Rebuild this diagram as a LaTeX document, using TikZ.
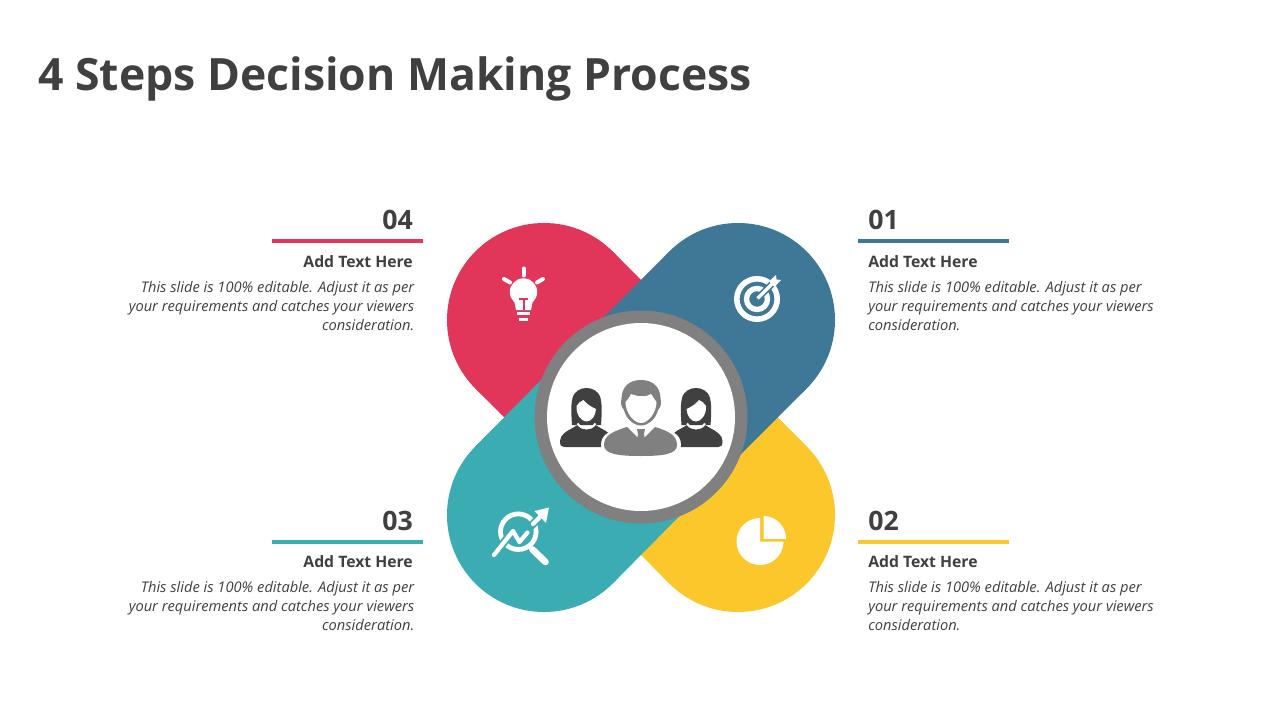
\documentclass[tikz,border=0pt]{standalone}
\usepackage{fontspec}
\setmainfont{Open Sans}
\definecolor{cred}{HTML}{E1365A}
\definecolor{cblue}{HTML}{3E7896}
\definecolor{cteal}{HTML}{3BACB1}
\definecolor{cyel}{HTML}{FBC72B}
\definecolor{cgrey}{HTML}{808080}
\definecolor{cdark}{HTML}{404040}
\tikzset{
  titletext/.style={anchor=base west,inner sep=0pt,text=cdark,font=\fontsize{33.4}{38}\selectfont\bfseries},
  numtext/.style={inner sep=0pt,text=cdark,font=\fontsize{20}{24}\selectfont\bfseries},
  headtext/.style={inner sep=0pt,text=cdark,font=\fontsize{11.8}{14}\selectfont\bfseries},
  bodytext/.style={inner sep=0pt,text=cdark,font=\fontsize{11}{14.25}\selectfont\itshape},
  rulebar/.style={line width=3pt},
  iconline/.style={draw=white,line cap=round,line join=round},
}
\newcommand{\womanicon}{%
  \fill[cdark] (-14.5,425) .. controls (-15.5,412) and (-15.5,404) .. (-14,398)
     .. controls (-12,391) and (-6,388) .. (0,388)
     .. controls (6,388) and (12,391) .. (14,398)
     .. controls (15.5,404) and (15.5,412) .. (14.5,425) -- cycle;
  \fill[white] (-10,406) .. controls (-8,403) and (-6,401) .. (-3,400)
     .. controls (0,404) and (5,407) .. (9.5,409)
     .. controls (9,416) and (5,421.5) .. (0,421.5)
     .. controls (-5,421.5) and (-10.5,415) .. (-10,406) -- cycle;
  \fill[cdark] (-26.5,441) .. controls (-26.5,435) and (-20,431) .. (-14,428)
     -- (-9,425) .. controls (-5,431) and (5,431) .. (9,425) -- (14,428)
     .. controls (20,431) and (26.5,435) .. (26.5,441)
     .. controls (26.5,446) and (25,447) .. (22,447) -- (-22,447)
     .. controls (-25,447) and (-26.5,446) .. (-26.5,441) -- cycle;
  \draw[white,line width=1.5pt] (-9,423.5) .. controls (-5,430) and (5,430) .. (9,423.5);
}
\begin{document}
\begin{tikzpicture}[x=0.75pt,y=-0.75pt]
\useasboundingbox (0,0) rectangle (1280,720);
\fill[white] (0,0) rectangle (1280,720);

% petals
\fill[cred] (544,320) circle[radius=97];
\fill[cred] (612.6,251.4) -- (709.6,348.4) -- (572.4,485.6) -- (475.4,388.6) -- cycle;
\fill[cyel] (738,515) circle[radius=97];
\fill[cyel] (806.6,446.4) -- (709.6,348.4) -- (572.4,485.6) -- (669.4,583.6) -- cycle;
\fill[cblue] (738,320) circle[radius=97];
\fill[cblue] (669.4,251.4) -- (806.6,388.6) -- (709.6,485.6) -- (572.4,348.4) -- cycle;
\fill[cteal] (544,515) circle[radius=97];
\fill[cteal] (475.4,446.4) -- (612.6,583.6) -- (709.6,485.6) -- (572.4,348.4) -- cycle;

% central ring
\fill[cgrey] (641,417) circle[radius=106.5];
\fill[white] (641,417) circle[radius=94];

% people
\begin{scope}[shift={(586.5,0)}]\womanicon\end{scope}
\begin{scope}[shift={(696,0)},xscale=-1]\womanicon\end{scope}
\fill[white] (641,458) .. controls (615,458) and (601,456) .. (601,445)
   .. controls (601,433) and (612,430) .. (628,425) -- (654,425)
   .. controls (670,430) and (681,433) .. (681,445)
   .. controls (681,456) and (667,458) .. (641,458) -- cycle;
\fill[cgrey] (641,456) .. controls (618,456) and (604,454) .. (604,445)
   .. controls (604,435) and (614,431) .. (627,427) -- (637,437) -- (645,437) -- (655,427)
   .. controls (668,431) and (677,435) .. (677,445)
   .. controls (677,454) and (664,456) .. (641,456) -- cycle;
\fill[cgrey] (637,429) -- (645,429) -- (644,434) -- (645.5,443) -- (641,448) -- (636.5,443) -- (638,434) -- cycle;
\fill[cgrey] (641,380) .. controls (629,380) and (622,387) .. (621.5,398)
   .. controls (620.5,403) and (621,407) .. (624,410)
   .. controls (626,419) and (634,425.5) .. (641,425.5)
   .. controls (648,425.5) and (656,419) .. (658,410)
   .. controls (661,407) and (661.5,403) .. (660.5,398)
   .. controls (660,387) and (653,380) .. (641,380) -- cycle;
\fill[white] (625.5,402) .. controls (628,399) and (630,397) .. (631,394)
   .. controls (638,397) and (647,397) .. (651,394)
   .. controls (653,397) and (655,400) .. (656.5,402)
   .. controls (656.5,413) and (648,423) .. (641,423)
   .. controls (634,423) and (625.5,413) .. (625.5,402) -- cycle;

% light bulb
\fill[white] (523.5,292) circle[radius=13.7];
\fill[white] (514,300) -- (533,300) -- (531,310) -- (516,310) -- cycle;
\fill[white] (517,312) rectangle (530,315);
\fill[white] (519,318) rectangle (528,321);
\draw[cred,line width=1.5pt] (519,298.5) -- (528,298.5) (523.5,298.5) -- (523.5,310);
\draw[iconline,line width=3pt] (523.5,268.5) -- (523.5,275.5);
\draw[iconline,line width=3pt] (504,279) -- (510,282.5);
\draw[iconline,line width=3pt] (543,279) -- (537,282.5);

% target
\draw[white,line width=4.2pt] (757,299) circle[radius=20.2];
\draw[white,line width=4pt] (757,299) circle[radius=10.5];
\draw[cblue,line width=5pt] (757,299) -- (776,280);
\draw[white,line width=2.6pt] (757.5,298.5) -- (772,284);
\fill[white] (769.5,281) -- (776,275) -- (776.5,279.5) -- (781,280) -- (775,286.5) -- (771,285) -- cycle;

% analytics
\draw[white,line width=3.6pt] (518.3,531.7) circle[radius=17.8];
\draw[cteal,line width=6pt,line join=round] (493,556) -- (513,531) -- (519.5,542) -- (528,532);
\draw[cteal,line width=6pt] (526,531) -- (543,514);
\draw[iconline,line width=3.2pt] (494,555) -- (513,531) -- (519.5,542) -- (527.5,532.5);
\draw[iconline,line width=3.2pt] (533,524) -- (543,514);
\fill[white] (549,507.5) -- (546,523) -- (534.5,511) -- cycle;
\draw[iconline,line width=5pt] (532.5,549.5) -- (545.5,562);

% pie chart
\begin{scope}
  \clip (730,510) -- (760,510) -- (760,541.5) -- (790,541.5) -- (790,570) -- (730,570) -- cycle;
  \fill[white] (760,541.5) circle[radius=23.5];
\end{scope}
\begin{scope}
  \clip (763.5,510) rectangle (790,538.5);
  \fill[white] (763.5,538.5) circle[radius=22.5];
\end{scope}

% title
\node[titletext] (title) at (38,91) {4 Steps Decision Making Process};

% rules
\coordinate (r4a) at (272,241); \coordinate (r4b) at (423,241);
\coordinate (r1a) at (858,241); \coordinate (r1b) at (1009,241);
\coordinate (r3a) at (272,542); \coordinate (r3b) at (423,542);
\coordinate (r2a) at (858,542); \coordinate (r2b) at (1009,542);
\draw[rulebar,cred] (r4a) -- (r4b);
\draw[rulebar,cblue] (r1a) -- (r1b);
\draw[rulebar,cteal] (r3a) -- (r3b);
\draw[rulebar,cyel] (r2a) -- (r2b);

% step 04
\node[numtext,anchor=base east] (n4) at (413,229) {04};
\node[headtext,anchor=base east] (h4) at (413,267.5) {Add Text Here};
\node[bodytext,anchor=north east,align=right] (b4) at (414.5,281) {This slide is 100\% editable. Adjust it as per\\your requirements and catches your viewers\\consideration.};
% step 01
\node[numtext,anchor=base west] (n1) at (868,229) {01};
\node[headtext,anchor=base west] (h1) at (868,267.5) {Add Text Here};
\node[bodytext,anchor=north west,align=left] (b1) at (868,281) {This slide is 100\% editable. Adjust it as per\\your requirements and catches your viewers\\consideration.};
% step 03
\node[numtext,anchor=base east] (n3) at (413,530) {03};
\node[headtext,anchor=base east] (h3) at (413,567.5) {Add Text Here};
\node[bodytext,anchor=north east,align=right] (b3) at (414.5,581) {This slide is 100\% editable. Adjust it as per\\your requirements and catches your viewers\\consideration.};
% step 02
\node[numtext,anchor=base west] (n2) at (868,530) {02};
\node[headtext,anchor=base west] (h2) at (868,567.5) {Add Text Here};
\node[bodytext,anchor=north west,align=left] (b2) at (868,581) {This slide is 100\% editable. Adjust it as per\\your requirements and catches your viewers\\consideration.};
\end{tikzpicture}
\end{document}
